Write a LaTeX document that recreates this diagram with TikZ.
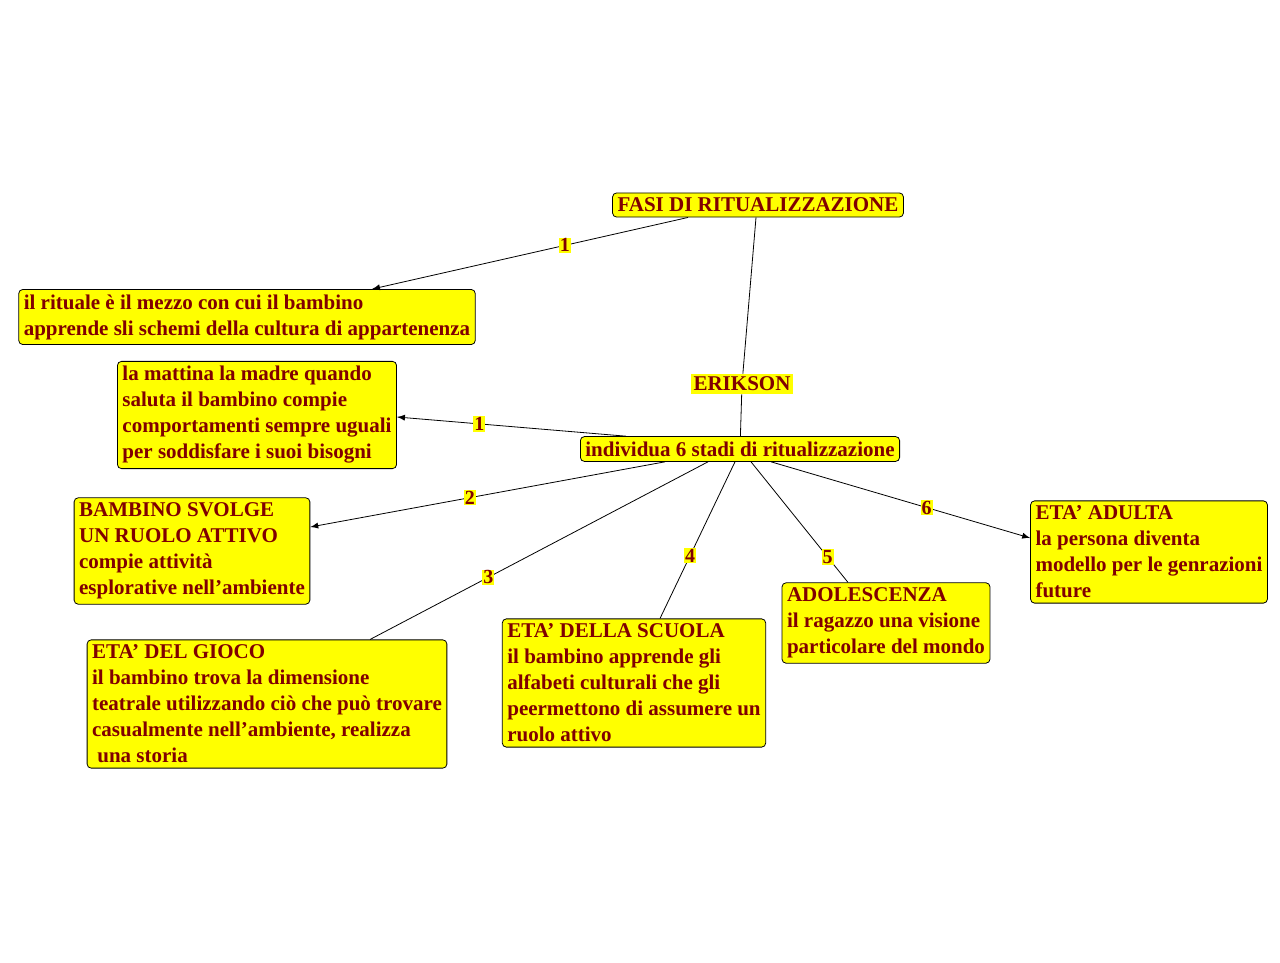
\documentclass[tikz,border=0pt]{standalone}
\usepackage{fontspec}
\setmainfont{Liberation Serif}
\usetikzlibrary{calc}
\definecolor{testo}{RGB}{128,0,0}
\definecolor{giallo}{RGB}{255,255,0}
\tikzset{
  concetto/.style={draw=black, fill=giallo, rounded corners=2pt, text=testo,
    font=\fontsize{10.5}{13}\selectfont\bfseries, align=left, inner sep=2.5pt},
  etichetta/.style={fill=giallo, text=testo, font=\fontsize{10}{11}\selectfont\bfseries, inner sep=0.5pt},
  collega/.style={draw=black, thin},
  freccia/.style={collega, -latex}
}
\begin{document}
\begin{tikzpicture}[x=0.5pt, y=-0.5pt]
    \useasboundingbox (0,0) rectangle (1280,963);

    % Concetti
    \node[concetto] (fasi) at (758,205) {FASI DI RITUALIZZAZIONE};
    \node[concetto] (rituale) at (247,317) {il rituale è il mezzo con cui il bambino\\apprende sli schemi della cultura di appartenenza};
    \node[concetto] (mattina) at (257,415) {la mattina la madre quando\\saluta il bambino compie\\comportamenti sempre uguali\\per soddisfare i suoi bisogni};
    \node[etichetta, font=\fontsize{10.5}{13}\selectfont\bfseries, inner sep=1.5pt] (erikson) at (742,384) {ERIKSON\ };
    \node[concetto] (individua) at (740,449) {individua 6 stadi di ritualizzazione};
    \node[concetto] (bambino) at (192,551) {BAMBINO SVOLGE\\UN RUOLO ATTIVO\\compie attività\\esplorative nell'ambiente};
    \node[concetto] (gioco) at (267,704) {ETA' DEL GIOCO\\il bambino trova la dimensione\\teatrale utilizzando ciò che può trovare\\casualmente nell’ambiente, realizza\\\ una storia};
    \node[concetto] (scuola) at (634,683) {ETA' DELLA SCUOLA\\il bambino apprende gli\\alfabeti culturali che gli\\peermettono di assumere un\\ruolo attivo};
    \node[concetto] (adolescenza) at (886,623) {ADOLESCENZA\\il ragazzo una visione\\particolare del mondo};
    \node[concetto] (adulta) at (1149,552) {ETA' ADULTA\\la persona diventa\\modello per le genrazioni\\future};

    % Collegamenti
    \draw[freccia] ($(fasi.south)+(-70,0)$) -- ($(rituale.north)+(125,0)$) node[etichetta, pos=0.39] {1};
    \draw[collega] ($(fasi.south)+(-2,0)$) -- (erikson);
    \draw[collega] (erikson) -- (individua);
    \draw[freccia] ($(individua.north)+(-114,0)$) -- ($(mattina.east)+(0,2)$) node[etichetta, pos=0.64] {1};
    \draw[freccia] ($(individua.south)+(-75,0)$) -- ($(bambino.east)+(0,-24)$) node[etichetta, pos=0.55] {2};
    \draw[collega] ($(individua.south)+(-32,0)$) -- ($(gioco.north)+(103,0)$) node[etichetta, pos=0.65] {3};
    \draw[collega] ($(individua.south)+(-5,0)$) -- ($(scuola.north)+(26,0)$) node[etichetta, pos=0.6] {4};
    \draw[collega] ($(individua.south)+(11,0)$) -- ($(adolescenza.north)+(-38,0)$) node[etichetta, pos=0.79] {5};
    \draw[freccia] ($(individua.south)+(31,0)$) -- ($(adulta.west)+(0,-14)$) node[etichetta, pos=0.6] {6};
\end{tikzpicture}
\end{document}
